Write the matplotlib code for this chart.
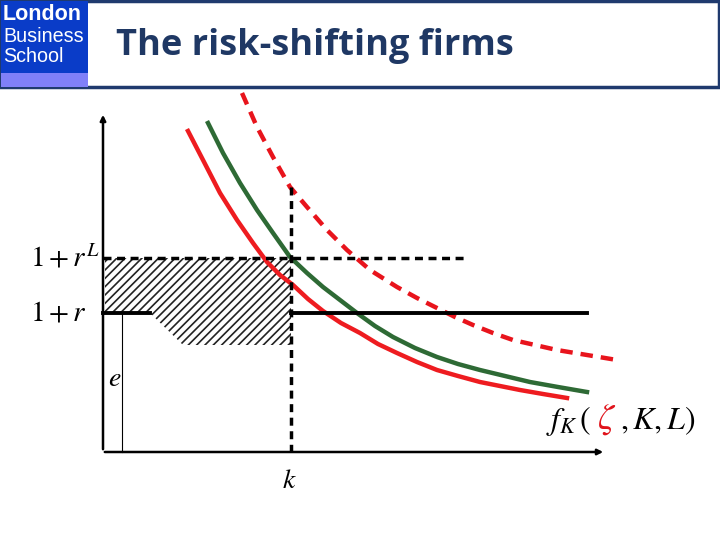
import numpy as np
import matplotlib
matplotlib.use("Agg")
import matplotlib.pyplot as plt
from matplotlib.patches import Rectangle, Polygon

plt.rcParams['mathtext.fontset'] = 'stix'
plt.rcParams['hatch.linewidth'] = 1.2

# curves (pixel coords, y down)
red_x = [188, 203, 220, 237, 253, 267, 280, 293, 308, 323, 341, 360, 378, 397, 417, 437, 458, 480, 500, 520, 543, 567]
red_y = [131, 160, 193, 220, 243, 262, 275, 285, 299, 311, 323, 333, 344, 353, 362, 370, 376, 382, 386, 390, 394, 398]
green_x = [208, 223, 240, 257, 273, 290, 307, 323, 340, 357, 375, 393, 415, 437, 458, 480, 505, 530, 558, 587]
green_y = [123, 153, 183, 210, 233, 257, 273, 287, 300, 313, 326, 337, 348, 357, 364, 370, 376, 382, 387, 392]
dash_x = [242, 257, 273, 290, 307, 327, 347, 370, 397, 417, 437, 455, 473, 493, 513, 535, 557, 587, 617]
dash_y = [93, 127, 157, 187, 207, 230, 250, 270, 287, 298, 308, 317, 325, 333, 340, 345, 350, 355, 360]

k_x = 291
rL_y = 258
r_y = 313
e_x = 122
axis_x0, axis_y0 = 103, 452
hatch_x = [105, 291, 291, 183, 150, 105]
hatch_y = [258, 258, 345, 345, 313, 313]

fig = plt.figure(figsize=(7.2, 5.4), dpi=100)
ax = fig.add_axes([0, 0, 1, 1])
ax.set_xlim(0, 720)
ax.set_ylim(540, 0)
ax.axis('off')

# header
navy = '#1f3a6e'
ax.add_patch(Rectangle((1, 1), 718, 86, fill=False, edgecolor=navy, lw=2.5))
ax.add_patch(Rectangle((1, 1), 87, 72, facecolor='#0a3cc8', edgecolor='none'))
ax.add_patch(Rectangle((1, 73), 87, 14, facecolor='#8080f8', edgecolor='none'))
ax.text(3, 15, 'London', color='white', fontsize=15.5, fontweight='bold',
        family='Liberation Sans', va='center')
ax.text(3, 36, 'Business', color='white', fontsize=14.2,
        family='Liberation Sans', va='center')
ax.text(3, 56, 'School', color='white', fontsize=14.2,
        family='Liberation Sans', va='center')
ax.text(116, 46, 'The risk-shifting firms', color='#1f3864', fontsize=26,
        fontweight='bold', family='Open Sans', va='center')

# hatched area
ax.add_patch(Polygon(list(zip(hatch_x, hatch_y)), closed=True, facecolor='none',
                     edgecolor='#222222', hatch='////', lw=0))

# axes
ax.annotate('', xy=(axis_x0, 112), xytext=(axis_x0, axis_y0),
            arrowprops=dict(arrowstyle='-|>', color='black', lw=1.8, mutation_scale=8))
ax.annotate('', xy=(606, axis_y0), xytext=(axis_x0 - 1, axis_y0),
            arrowprops=dict(arrowstyle='-|>', color='black', lw=1.8, mutation_scale=8))

# curves
ax.plot(dash_x, dash_y, color='#e8141c', lw=3.2, dashes=(2.8, 1.8))
ax.plot(green_x, green_y, color='#2e6a35', lw=3.2)
ax.plot(red_x, red_y, color='#ee1c20', lw=3.2)

# rate lines
ax.plot([axis_x0, 468], [rL_y, rL_y], color='black', lw=2.5, dashes=(2.3, 1.6))
ax.plot([k_x, k_x], [187, axis_y0], color='black', lw=2.5, dashes=(2.3, 1.6))
ax.plot([axis_x0, 150], [r_y, r_y], color='black', lw=2.8)
ax.plot([k_x, 587], [r_y, r_y], color='black', lw=2.8)
ax.plot([e_x, e_x], [r_y, axis_y0], color='black', lw=0.8)

# labels
ax.text(30, rL_y, r'$\mathit{1} + r^{L}$', fontsize=21, va='center', ha='left')
ax.text(30, r_y, r'$\mathit{1} + r$', fontsize=21, va='center', ha='left')
ax.text(108, 378, r'$e$', fontsize=20, va='center')
ax.text(282, 480, r'$k$', fontsize=20, va='center')
ax.text(546, 421, r'$f_K\,($', fontsize=23, va='center')
ax.text(597, 420, r'$\zeta$', fontsize=26, va='center', color='#e0141c')
ax.text(620, 421, r'$, K, L)$', fontsize=23, va='center')

fig.savefig('out.png', dpi=100)
